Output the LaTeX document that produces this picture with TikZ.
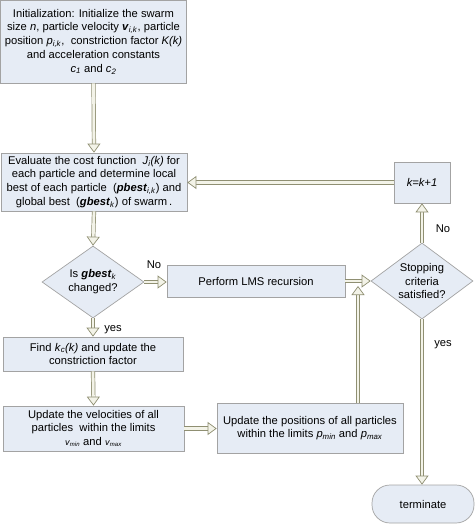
\documentclass[tikz,border=0pt]{standalone}
\usepackage{fontspec}
\setmainfont{Liberation Sans}
\usetikzlibrary{shapes.geometric,arrows.meta}
\definecolor{boxfill}{HTML}{E6ECF5}
\definecolor{boxline}{HTML}{A3A3A3}
\definecolor{arrline}{HTML}{8F8F72}
\definecolor{arrfill}{HTML}{F3F3E8}
\tikzset{
  base/.style={draw=boxline, fill=boxfill, line width=0.7pt, align=center,
    font=\fontsize{11.2pt}{13.8pt}\selectfont, inner sep=0pt},
  procbox/.style={base, rectangle},
  decbox/.style={base, diamond, inner sep=-6pt},
  endbox/.style={base, rectangle, rounded corners=18pt},
  flow/.style={draw=arrline, line width=0.7pt, double=arrfill, double distance=2.8pt,
    -{Triangle[open, width=13pt, length=9pt, fill=arrfill, line width=0.7pt]}},
  lbl/.style={font=\fontsize{11.2pt}{13.8pt}\selectfont, inner sep=0pt}
}
\newcommand{\sbs}[1]{\textsubscript{\textit{#1}}}
\begin{document}
\begin{tikzpicture}[x=1pt,y=-1pt]
\useasboundingbox (0,0) rectangle (474,524);
\node[procbox, minimum width=186pt, minimum height=83pt] (init) at (93.5,41.5)
 {Initialization: Initialize the swarm\\
  size \textit{n}, particle velocity \textbf{\textit{v}}\sbs{i,k}, particle\\
  position \textit{p}\sbs{i,k},\ \ constriction factor \textit{K(k)}\\
  and acceleration constants\\
  \textit{c}\sbs{1} and \textit{c}\sbs{2}};
\node[procbox, minimum width=186pt, minimum height=58pt] (eval) at (94,182)
 {Evaluate the cost function\ \ \textit{J}\sbs{i}\textit{(k)} for\\
  each particle and determine local\\
  best of each particle\ \ (\textbf{\textit{pbest}}\sbs{i,k}) and\\
  global best\ \ (\textbf{\textit{gbest}}\sbs{k}) of swarm\,.};
\node[decbox, minimum width=102pt, minimum height=72pt] (d1) at (93,282)
 {Is \textbf{\textit{gbest}}\sbs{k}\\ changed?};
\node[procbox, minimum width=178pt, minimum height=32pt] (lms) at (256,281)
 {Perform LMS recursion};
\node[decbox, minimum width=102pt, minimum height=76pt] (d2) at (422,281)
 {Stopping\\ criteria\\ satisfied?};
\node[procbox, minimum width=56pt, minimum height=41pt] (kk) at (422,182.5)
 {\textit{k=k+1}};
\node[procbox, minimum width=180pt, minimum height=34pt] (find) at (93,354)
 {Find \textit{k}\sbs{c}\textit{(k)} and update the\\ constriction factor};
\node[procbox, minimum width=181pt, minimum height=45pt] (vel) at (93.5,428.5)
 {Update the velocities of all\\ particles\ \ within the limits\\
  {\small\textit{v}\sbs{min}} and {\small\textit{v}\sbs{max}}};
\node[procbox, minimum width=186pt, minimum height=50pt] (pos) at (310,428)
 {Update the positions of all particles\\
  within the limits \textit{p}\sbs{min} and \textit{p}\sbs{max}};
\node[endbox, minimum width=102pt, minimum height=38pt] (term) at (423,504)
 {terminate};
\coordinate (join) at (358,286);
\draw[flow] (init.south) -- (eval.north);
\draw[flow] (eval.south) -- (d1.north);
\draw[flow] (d1.east) -- (d1.east -| lms.west);
\draw[flow] (lms.east) -- (d2.west);
\draw[flow] (d1.south) -- (find.north);
\draw[flow] (find.south) -- (vel.north);
\draw[flow] (vel.east) -- (vel.east -| pos.west);
\draw[flow] (pos.north -| join) -- (join);
\draw[flow] (d2.south) -- (d2.south |- term.north);
\draw[flow] (d2.north) -- (kk.south);
\draw[flow] (kk.west) -- (kk.west -| eval.east);
\node[lbl] (no1) at (154,265) {No};
\node[lbl] (yes1) at (113,330) {yes};
\node[lbl] (no2) at (443,229) {No};
\node[lbl] (yes2) at (443,345) {yes};
\end{tikzpicture}
\end{document}
